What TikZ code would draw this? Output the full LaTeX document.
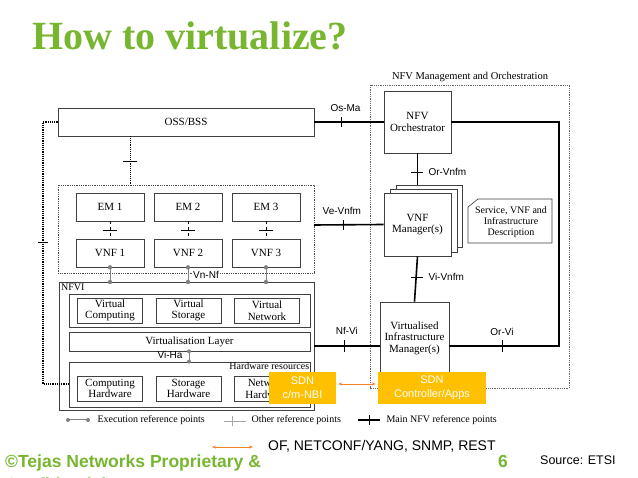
\documentclass[tikz,border=0pt]{standalone}
\usepackage{fontspec}
\setmainfont{Liberation Serif}
\setsansfont{Liberation Sans}
\usetikzlibrary{arrows.meta,calc}
\definecolor{tgreen}{RGB}{120,182,48}
\definecolor{sdn}{RGB}{255,192,0}
\definecolor{arr}{RGB}{240,130,40}
\begin{document}
\begin{tikzpicture}[x=1pt,y=-1pt,
  box/.style={draw=black!75,line width=0.7pt,fill=white,font=\fontsize{11}{11.5}\selectfont,align=center,inner sep=0},
  mainl/.style={line width=1.6pt},
  lbl/.style={font=\sffamily\fontsize{10}{11}\selectfont},
  dotl/.style={densely dotted,line width=1.2pt},
  dashl/.style={dashed,line width=0.6pt},
  exec/.style={gray,line width=1pt},
  sdnbox/.style={fill=sdn,text=white,font=\sffamily\fontsize{11}{14}\selectfont,align=center,inner sep=0},
  oarrow/.style={arr,line width=0.8pt,{Stealth[length=4pt]}-{Stealth[length=4pt]}}]
\useasboundingbox (0,0) rectangle (638,478);
\fill[white] (0,0) rectangle (638,478);
% title
\node[anchor=base west,text=tgreen,font=\fontsize{40}{44}\bfseries\selectfont,inner sep=0] (title) at (32,50) {How to virtualize?};
% MANO
\node[font=\fontsize{10.5}{12}\selectfont] (manot) at (470,77) {NFV Management and Orchestration};
\draw[black!60,densely dotted,line width=0.8pt] (370,85) rectangle (569,388);
% OSS
\node[box,minimum width=256pt,minimum height=28pt] (oss) at (186,122) {OSS/BSS};
\node[box,minimum width=67pt,minimum height=62pt] (orch) at (417.5,122) {NFV\\Orchestrator};
% VNF domain
\draw[black!70,densely dotted,line width=0.8pt] (58,185) rectangle (314,273);
\coordinate (vnfbox) at (314,225);
\node[box,minimum width=68pt,minimum height=28pt] (em1) at (110,207) {EM 1};
\node[box,minimum width=68pt,minimum height=28pt] (em2) at (188,207) {EM 2};
\node[box,minimum width=68pt,minimum height=28pt] (em3) at (266,207) {EM 3};
\node[box,minimum width=68pt,minimum height=28pt] (vnf1) at (110,253) {VNF 1};
\node[box,minimum width=68pt,minimum height=28pt] (vnf2) at (188,253) {VNF 2};
\node[box,minimum width=68pt,minimum height=28pt] (vnf3) at (266,253) {VNF 3};
\foreach \i in {1,2,3}{
  \draw[dashl] (em\i) -- (vnf\i);
  \draw[line width=0.8pt] ($(em\i.south)!0.5!(vnf\i.north)+(-7,0)$) -- ++(14,0);
}
% VNF manager stack
\draw[box] (396,185) rectangle (462,247);
\draw[box] (390,189) rectangle (457,252);
\node[box,minimum width=67pt,minimum height=63pt] (vnfm) at (417.5,224.5) {VNF\\Manager(s)};
\node[box,draw=none,fill=none,minimum width=84pt,minimum height=44pt,font=\fontsize{10}{11}\selectfont] (sd) at (511,222) {Service, VNF and\\Infrastructure\\Description};
\draw[black!75,line width=0.7pt] (478,199) -- (552,199) -- (552,243) -- (468,243) -- (468,207) -- cycle;
% VIM
\node[box,minimum width=69pt,minimum height=72pt] (vim) at (414.5,338) {Virtualised\\Infrastructure\\Manager(s)};
% NFVI
\draw[black!75,line width=0.8pt] (59,282) rectangle (314,410);
\coordinate (nfvir) at (314,346);
\node[anchor=north west,font=\fontsize{10}{10}\selectfont,inner sep=0] (nfvil) at (61,284) {NFVI};
\draw[black!75,line width=0.7pt] (69,294) rectangle (310,327);
\node[box,minimum width=65pt,minimum height=25pt] (vc) at (110,310.5) {Virtual\\Computing};
\node[box,minimum width=65pt,minimum height=25pt] (vs) at (188.5,310.5) {Virtual\\Storage};
\node[box,minimum width=65pt,minimum height=25pt] (vn) at (267,310.5) {Virtual\\Network};
\node[box,minimum width=241pt,minimum height=19pt] (vl) at (189.5,341.5) {Virtualisation Layer};
\node[box,minimum width=241pt,minimum height=45pt] (hw) at (189.5,384.5) {};
\node[anchor=north east,font=\fontsize{10}{10}\selectfont,inner sep=1pt] (hwl) at (hw.north east) {Hardware resources};
\node[box,minimum width=65pt,minimum height=25pt] (ch) at (110,388.5) {Computing\\Hardware};
\node[box,minimum width=65pt,minimum height=25pt] (sh) at (188.5,388.5) {Storage\\Hardware};
\node[box,minimum width=65pt,minimum height=25pt] (nh) at (267,388.5) {Network\\Hardware};
% Vi-Ha
\draw[exec] (vl.south -| 189,0) coordinate(a) -- (hw.north -| 189,0) coordinate(b);
\fill[gray] (a) circle (2pt) (b) circle (2pt);
\node[lbl,anchor=east] (viha) at (186,355) {Vi-Ha};
% Vn-Nf
\foreach \i in {1,2,3}{
  \draw[exec] (vnf\i.south) -- (vnf\i.south |- 0,282);
  \fill[gray] (vnf\i.south) circle (2.2pt) (vnf\i.south |- 0,282) circle (2.2pt);
}
\node[lbl,fill=white,inner sep=0.5pt] (vnnf) at (206,275) {Vn-Nf};
% OSS to VNF dotted
\draw[dotl,line width=0.9pt] (130,136) -- (130,185);
\draw[line width=0.8pt] (123,161) -- (137,161);
% left dotted
\draw[dotl] (oss.west) -- (43,122) -- (43,384) -- (69,384);
\draw[line width=0.6pt] (38,242) -- (48,242);
% main reference lines
\draw[mainl] (oss.east) -- (orch.west) node[pos=0.45,lbl,above=6pt] {Os-Ma};
\draw[line width=0.6pt] (341,117) -- (341,127);
\draw[mainl] (vnfbox) -- (vnfm.west) node[pos=0.4,lbl,above=6pt] {Ve-Vnfm};
\draw[line width=0.6pt] (343,220) -- (343,230);
\draw[mainl] (orch.south) -- (vnfm.north |- 0,185);
\draw[line width=0.6pt] (411,172) -- (423,172);
\node[lbl,anchor=west] (orv) at (425,172) {Or-Vnfm};
\draw[mainl] (vnfm.south) -- (vim.north);
\draw[line width=0.6pt] (411,277) -- (423,277);
\node[lbl,anchor=west] (viv) at (425,277) {Vi-Vnfm};
\draw[mainl] (nfvir) -- (vim.west |- nfvir) node[pos=0.5,lbl,above=7pt] {Nf-Vi};
\draw[line width=0.6pt] (344,340) -- (344,352);
\draw[mainl] (orch.east) -- (559,122) -- (559,346) -- (vim.east |- 0,346);
\node[lbl] (orvi) at (502,332) {Or-Vi};
\draw[line width=0.6pt] (502,340) -- (502,352);
% SDN boxes
\node[sdnbox,minimum width=67pt,minimum height=32pt] (sdn1) at (302.5,388) {SDN\\c/m-NBI};
\node[sdnbox,minimum width=108pt,minimum height=32pt] (sdn2) at (432,388) {SDN\\Controller/Apps};
\draw[oarrow] ($(sdn1.east)+(2,-4)$) -- ($(sdn2.west)+(-2,-4)$);
% legend
\coordinate (l1) at (68,420); \coordinate (l2) at (88,420);
\draw[exec] (l1) -- (l2); \fill[gray] (l1) circle (2pt) (l2) circle (2pt);
\node[anchor=west,font=\fontsize{10}{11}\selectfont] (lt1) at (94,420) {Execution reference points};
\coordinate (l3) at (224,421); \coordinate (l4) at (246,421);
\draw[gray!70,line width=0.6pt] (l3) -- (l4); \draw[gray!70] (232,416) -- (232,426);
\node[anchor=west,font=\fontsize{10}{11}\selectfont] (lt2) at (248,420) {Other reference points};
\coordinate (l5) at (358,420); \coordinate (l6) at (380,420);
\draw[line width=1.6pt] (l5) -- (l6); \draw[line width=0.8pt] (369,415) -- (369,425);
\node[anchor=west,font=\fontsize{10}{11}\selectfont] (lt3) at (383,420) {Main NFV reference points};
% bottom texts
\coordinate (o1) at (212,447); \coordinate (o2) at (253,447);
\draw[oarrow] (o1) -- (o2);
\node[anchor=west,font=\sffamily\fontsize{14}{16}\selectfont,inner sep=0] (proto) at (268,446) {OF, NETCONF/YANG, SNMP, REST};
\node[anchor=base west,text=tgreen,font=\sffamily\bfseries\fontsize{17.5}{20}\selectfont,inner sep=0] (copy) at (5,468) {©Tejas Networks Proprietary \&};
\node[anchor=base west,text=tgreen,font=\sffamily\bfseries\fontsize{17.5}{20}\selectfont,inner sep=0] (conf) at (5,491) {Confidential};
\node[anchor=base,text=tgreen,font=\sffamily\bfseries\fontsize{17.5}{20}\selectfont,inner sep=0] (pg) at (503,468) {6};
\node[anchor=west,font=\sffamily\fontsize{12.5}{14}\selectfont,inner sep=0] (src) at (540,460) {Source: ETSI};
\end{tikzpicture}
\end{document}
